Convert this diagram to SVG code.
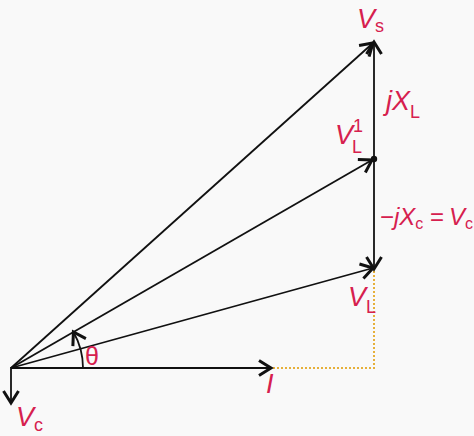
<svg xmlns="http://www.w3.org/2000/svg" width="474" height="436" viewBox="0 0 474 436">
<style>
.v{stroke:#111;stroke-width:1.8;fill:none}
.lbl{font-family:"Liberation Sans",Arial,sans-serif;fill:#d6204e;font-size:27px}
.it{font-style:italic}
.sub{font-size:18px}
.dot{stroke:#e6b03a;stroke-width:2;stroke-dasharray:2 2;fill:none}
.eq{font-size:24px}
.eq .sub{font-size:16px}
</style>
<defs>
<marker id="ah" markerUnits="userSpaceOnUse" markerWidth="22" markerHeight="22" viewBox="0 0 22 22" refX="17" refY="11" orient="auto">
<path d="M5,3.5 L17,11 L5,18.5" fill="none" stroke="#111" stroke-width="3"/>
</marker>
</defs>
<rect width="474" height="436" fill="#f9f9f9"/>
<g id="connectors">
<path class="dot" d="M273,368 H374 V270"/>
<line class="v" x1="11" y1="368" x2="271" y2="368" marker-end="url(#ah)"/>
<line class="v" x1="11" y1="368" x2="373" y2="268" marker-end="url(#ah)"/>
<line class="v" x1="11" y1="368" x2="372" y2="160" marker-end="url(#ah)"/>
<line class="v" x1="11" y1="368" x2="373" y2="43" marker-end="url(#ah)"/>
<line class="v" x1="374" y1="159" x2="374" y2="42" marker-end="url(#ah)"/>
<line class="v" x1="374" y1="159" x2="374" y2="269" marker-end="url(#ah)"/>
<line class="v" x1="11" y1="367" x2="11" y2="403" marker-end="url(#ah)"/>
<path class="v" d="M83,368 A72,72 0 0 0 73.4,332" marker-end="url(#ah)"/>
<circle cx="374" cy="159" r="3.2" fill="#111"/>
</g>
<g id="label-Vs"><text class="lbl" x="357" y="28"><tspan class="it">V</tspan><tspan class="sub" dy="4">s</tspan></text></g>
<g id="label-jXL"><text class="lbl" x="386" y="110"><tspan class="it">jX</tspan><tspan class="sub" dy="8">L</tspan></text></g>
<g id="label-VL1"><text class="lbl it" x="335" y="144">V</text><text class="lbl sub" x="353" y="132">1</text><text class="lbl sub" x="352" y="153">L</text></g>
<g id="label-jXc"><text class="lbl eq" x="380" y="225">−<tspan class="it">jX</tspan><tspan class="sub" dy="4">c</tspan></text><text class="lbl eq" x="430" y="225">=</text><text class="lbl eq" x="449" y="225"><tspan class="it">V</tspan><tspan class="sub" dy="4">c</tspan></text></g>
<g id="label-VL"><text class="lbl" x="348" y="306"><tspan class="it">V</tspan><tspan class="sub" dy="7">L</tspan></text></g>
<g id="label-theta"><text class="lbl" x="85" y="365" style="font-size:25px">θ</text></g>
<g id="label-I"><text class="lbl it" x="266" y="393">I</text></g>
<g id="label-Vc"><text class="lbl" x="16" y="426"><tspan class="it">V</tspan><tspan class="sub" dy="5">c</tspan></text></g>
</svg>
